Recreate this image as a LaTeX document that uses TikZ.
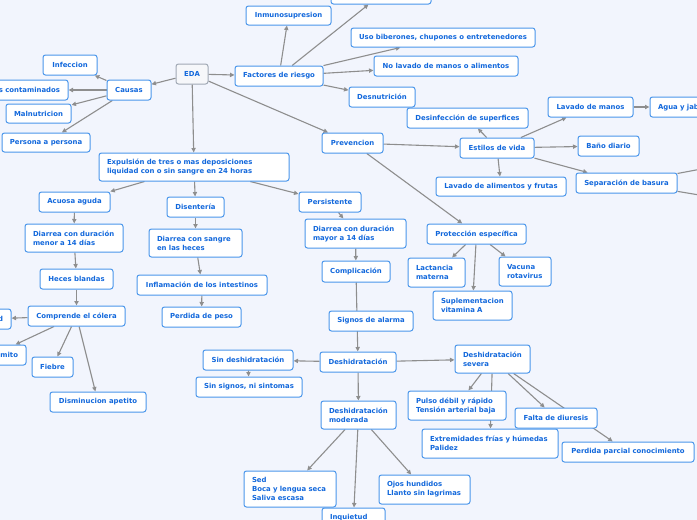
\documentclass[tikz,border=0pt]{standalone}
\usepackage{fontspec}
\setmainfont{DejaVu Sans}
\usetikzlibrary{arrows.meta,backgrounds}
\definecolor{bgc}{RGB}{242,245,253}
\definecolor{bord}{RGB}{74,150,235}
\definecolor{txt}{RGB}{18,104,220}
\definecolor{edg}{RGB}{142,142,142}
\definecolor{edaborder}{RGB}{160,168,180}
\definecolor{edafill}{RGB}{246,247,250}
\tikzset{
  mbox/.style={draw=bord, fill=white, line width=1pt, rounded corners=2.5pt,
    text=txt, font=\fontsize{6.9}{9}\selectfont\bfseries, inner xsep=8pt, inner ysep=0pt},
  edabox/.style={mbox, draw=edaborder, fill=edafill},
  conn/.style={draw=edg, line width=1.1pt, -{Triangle[length=4.5pt,width=4.2pt]}},
  plainconn/.style={draw=edg, line width=1.1pt}
}
% boxes with text aligned left or right (padding 8)
\newcommand\mbx[8][mbox]{%
  \pgfmathsetmacro\mbcx{(#3+#5)/2}\pgfmathsetmacro\mbcy{(#4+#6)/2}%
  \pgfmathsetmacro\mbww{#5-#3}\pgfmathsetmacro\mbhh{#6-#4}\pgfmathsetmacro\mbtw{#5-#3-16}%
  \node[#1, minimum width=\mbww pt, minimum height=\mbhh pt, text width=\mbtw pt, align=#7] (#2) at (\mbcx,\mbcy) {#8};}
% boxes with centred single-line text
\newcommand\mbc[7][mbox]{%
  \pgfmathsetmacro\mbcx{(#3+#5)/2}\pgfmathsetmacro\mbcy{(#4+#6)/2}%
  \pgfmathsetmacro\mbww{#5-#3}\pgfmathsetmacro\mbhh{#6-#4}%
  \node[#1, inner xsep=1pt, minimum width=\mbww pt, minimum height=\mbhh pt] (#2) at (\mbcx,\mbcy) {#7};}
\begin{document}
\begin{tikzpicture}[x=1pt,y=-1pt]
\useasboundingbox (0,0) rectangle (697,520);
\clip (0,0) rectangle (697,520);
\mbc{top}{331}{-15}{431}{4}{}
\mbc{inmuno}{246}{6}{331}{25}{Inmunosupresion}
\mbc{infeccion}{43}{55}{97}{75}{Infeccion}
\mbx{scont}{-40}{80}{68}{100}{right}{s contaminados}
\mbc{causas}{107}{80}{151}{100}{Causas}
\mbc[edabox]{eda}{176}{64}{208}{84}{EDA}
\mbc{factores}{235}{66}{323}{86}{Factores de riesgo}
\mbc{malnut}{6}{104}{71}{123}{Malnutricion}
\mbc{persona}{2}{133}{90}{152}{Persona a persona}
\mbx{expulsion}{99}{153}{289}{181}{left}{Expulsión de tres o mas deposiciones\\liquidad con o sin sangre en 24 horas}
\mbc{prevencion}{322}{133}{383}{153}{Prevencion}
\mbc{uso}{351}{28}{535}{47}{Uso biberones, chupones o entretenedores}
\mbc{nolavado}{374}{56}{518}{76}{No lavado de manos o alimentos}
\mbc{desnut}{349}{87}{415}{107}{Desnutrición}
\mbc{desinf}{407}{108}{528}{128}{Desinfección de superfices}
\mbc{lavmanos}{548}{97}{633}{117}{Lavado de manos}
\mbx{agua}{650}{97}{730}{117}{left}{Agua y jabón}
\mbc{estilos}{460}{138}{534}{158}{Estilos de vida}
\mbc{bano}{578}{136}{639}{156}{Baño diario}
\mbc{lavalim}{436}{177}{566}{196}{Lavado de alimentos y frutas}
\mbc{separacion}{576}{173}{677}{193}{Separación de basura}
\mbc{acuosa}{39}{192}{110}{212}{Acuosa aguda}
\mbc{disenteria}{167}{197}{224}{217}{Disentería}
\mbx{dmenor}{25}{224}{123}{252}{left}{Diarrea con duración\\menor a 14 días}
\mbx{dsangre}{149}{229}{242}{257}{left}{Diarrea con sangre\\en las heces}
\mbc{heces}{40}{269}{113}{289}{Heces blandas}
\mbc{inflam}{137}{275}{267}{295}{Inflamación de los intestinos}
\mbc{comprende}{28}{306}{125}{326}{Comprende el cólera}
\mbc{ppeso}{162}{307}{241}{327}{Perdida de peso}
\mbx{dnode}{-40}{309}{11}{329}{right}{d}
\mbx{mito}{-40}{345}{26}{365}{right}{mito}
\mbc{fiebre}{32}{357}{73}{377}{Fiebre}
\mbc{dismin}{50}{392}{146}{412}{Disminucion apetito}
\mbc{persistente}{299}{192}{361}{212}{Persistente}
\mbx{dmayor}{305}{219}{406}{248}{left}{Diarrea con duración\\mayor a 14 días}
\mbc{complic}{322}{261}{390}{282}{Complicación}
\mbc{signos}{329}{311}{413}{331}{Signos de alarma}
\mbc{proteccion}{427}{224}{526}{244}{Protección específica}
\mbx{lactancia}{408}{258}{465}{287}{left}{Lactancia\\materna}
\mbx{vacuna}{499}{257}{551}{286}{left}{Vacuna\\rotavirus}
\mbx{suplem}{433}{291}{512}{320}{left}{Suplementacion\\vitamina A}
\mbc{sindes}{203}{350}{293}{370}{Sin deshidratación}
\mbc{sinsignos}{196}{377}{302}{397}{Sin signos, ni sintomas}
\mbc{deshid}{320}{352}{396}{372}{Deshidratación}
\mbx{moderada}{321}{401}{396}{429}{left}{Deshidratación\\moderada}
\mbx{severa}{455}{345}{530}{373}{left}{Deshidratación\\severa}
\mbx{pulso}{408}{391}{506}{420}{left}{Pulso débil y rápido\\Tensión arterial baja}
\mbx{extrem}{422}{429}{558}{458}{left}{Extremidades frías y húmedas\\Palidez}
\mbc{falta}{515}{408}{597}{428}{Falta de diuresis}
\mbc{pparcial}{562}{442}{694}{462}{Perdida parcial conocimiento}
\mbx{sed}{244}{471}{336}{507}{left}{Sed\\Boca y lengua seca\\Saliva escasa}
\mbx{inquietud}{322}{508}{385}{528}{left}{Inquietud}
\mbx{ojos}{379}{475}{470}{504}{left}{Ojos hundidos\\Llanto sin lagrimas}
\coordinate (sepA) at (760,158);
\coordinate (sepB) at (760,205);
\begin{scope}[on background layer]
\clip (0,0) rectangle (697,520);
\fill[bgc] (-10,-10) rectangle (707,530);
\draw[conn] (eda) -- (causas);
\draw[conn] (eda) -- (factores);
\draw[conn] (eda) -- (expulsion);
\draw[conn] (eda) -- (prevencion);
\draw[conn] (causas) -- (infeccion);
\draw[conn] (causas) -- (scont);
\draw[conn] (causas) -- (malnut);
\draw[conn] (causas) -- (persona);
\draw[conn] (factores) -- (inmuno);
\draw[conn] (factores) -- (top);
\draw[conn] (factores) -- (uso);
\draw[conn] (factores) -- (nolavado);
\draw[conn] (factores) -- (desnut);
\draw[conn] (prevencion) -- (estilos);
\draw[conn] (prevencion) -- (proteccion);
\draw[conn] (estilos) -- (desinf);
\draw[conn] (estilos) -- (lavmanos);
\draw[conn] (estilos) -- (bano);
\draw[conn] (estilos) -- (lavalim);
\draw[conn] (estilos) -- (separacion);
\draw[conn] (lavmanos) -- (agua);
\draw[plainconn] (separacion) -- (sepA);
\draw[plainconn] (separacion) -- (sepB);
\draw[conn] (proteccion) -- (lactancia);
\draw[conn] (proteccion) -- (vacuna);
\draw[conn] (proteccion) -- (suplem);
\draw[conn] (expulsion) -- (acuosa);
\draw[conn] (expulsion) -- (disenteria);
\draw[conn] (expulsion) -- (persistente);
\draw[conn] (acuosa) -- (dmenor);
\draw[conn] (dmenor) -- (heces);
\draw[conn] (heces) -- (comprende);
\draw[conn] (comprende) -- (dnode);
\draw[conn] (comprende) -- (mito);
\draw[conn] (comprende) -- (fiebre);
\draw[conn] (comprende) -- (dismin);
\draw[conn] (disenteria) -- (dsangre);
\draw[conn] (dsangre) -- (inflam);
\draw[conn] (inflam) -- (ppeso);
\draw[conn] (persistente) -- (dmayor);
\draw[conn] (dmayor) -- (complic);
\draw[conn] (complic) -- (deshid);
\draw[conn] (deshid) -- (sindes);
\draw[conn] (sindes) -- (sinsignos);
\draw[conn] (deshid) -- (moderada);
\draw[conn] (deshid) -- (severa);
\draw[conn] (moderada) -- (sed);
\draw[conn] (moderada) -- (inquietud);
\draw[conn] (moderada) -- (ojos);
\draw[conn] (severa) -- (pulso);
\draw[conn] (severa) -- (extrem);
\draw[conn] (severa) -- (falta);
\draw[conn] (severa) -- (pparcial);
\end{scope}
\end{tikzpicture}
\end{document}
